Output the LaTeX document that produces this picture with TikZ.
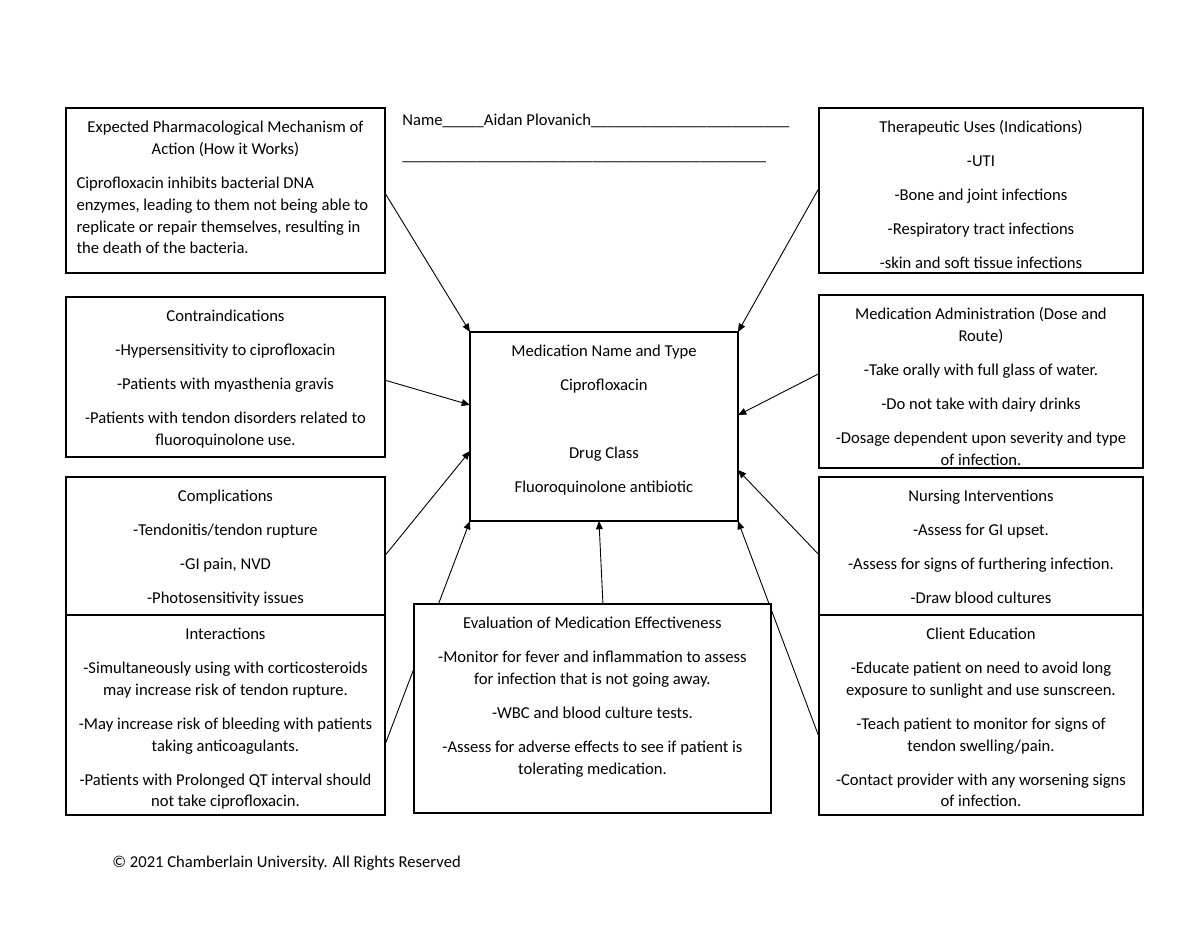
\documentclass[tikz,border=0pt]{standalone}
\usepackage{fontspec}
\setmainfont{Carlito}
\usepackage{tikz}
\usetikzlibrary{positioning, calc, arrows.meta, backgrounds}

\newcommand{\cardtext}[3]{\parbox[c][#1][t]{\dimexpr#2-14pt\relax}{\fontsize{11}{14.5}\selectfont\centering\rule{0pt}{16.2pt}#3}}

\begin{document}
\begin{tikzpicture}[
    x=0.02328cm, y=-0.02328cm,
    every node/.style={font=\fontsize{11}{14.5}\selectfont},
    card/.style={rectangle, draw=black, line width=1.2pt, fill=white,
                 inner xsep=7pt, inner ysep=0pt, outer sep=0pt},
    link/.style={line width=0.6pt, -{Triangle[length=5.5pt, width=4.5pt]}}
]
\useasboundingbox (0,0) rectangle (1200,927);

\node[card, anchor=north west] (mech) at (66,108) {\cardtext{3.841cm}{7.426cm}{Expected Pharmacological Mechanism of\\ Action (How it Works)\par\vspace{8pt}\raggedright Ciprofloxacin inhibits bacterial DNA\\ enzymes, leading to them not being able to\\ replicate or repair themselves, resulting in\\ the death of the bacteria.}};
\node[card, below=0.559cm of mech] (contra) {\cardtext{3.725cm}{7.426cm}{Contraindications\\[8pt] -Hypersensitivity to ciprofloxacin\\[8pt] -Patients with myasthenia gravis\\[8pt] -Patients with tendon disorders related to\\ fluoroquinolone use.}};
\node[card, below=0.466cm of contra] (compl) {\cardtext{3.213cm}{7.426cm}{Complications\\[8pt] -Tendonitis/tendon rupture\\[8pt] -GI pain, NVD\\[8pt] -Photosensitivity issues}};
\node[card, below=0cm of compl] (interact) {\cardtext{4.656cm}{7.426cm}{Interactions\\[8pt] -Simultaneously using with corticosteroids\\ may increase risk of tendon rupture.\\[8pt] -May increase risk of bleeding with patients\\ taking anticoagulants.\\[8pt] -Patients with Prolonged QT interval should\\ not take ciprofloxacin.}};

\node[card, anchor=north west] (therap) at (819,108) {\cardtext{3.841cm}{7.543cm}{Therapeutic Uses (Indications)\\[8pt] -UTI\\[8pt] -Bone and joint infections\\[8pt] -Respiratory tract infections\\[8pt] -skin and soft tissue infections}};
\node[card, below=0.512cm of therap] (admin) {\cardtext{4.027cm}{7.543cm}{Medication Administration (Dose and\\ Route)\\[8pt] -Take orally with full glass of water.\\[8pt] -Do not take with dairy drinks\\[8pt] -Dosage dependent upon severity and type\\ of infection.}};
\node[card, below=0.21cm of admin] (nursing) {\cardtext{3.213cm}{7.543cm}{Nursing Interventions\\[8pt] -Assess for GI upset.\\[8pt] -Assess for signs of furthering infection.\\[8pt] -Draw blood cultures}};
\node[card, below=0cm of nursing] (client) {\cardtext{4.656cm}{7.543cm}{Client Education\\[8pt] -Educate patient on need to avoid long\\ exposure to sunlight and use sunscreen.\\[8pt] -Teach patient to monitor for signs of\\ tendon swelling/pain.\\[8pt] -Contact provider with any worsening signs\\ of infection.}};

\node[card, anchor=north west] (center) at (470,332) {\cardtext{4.400cm}{6.239cm}{Medication Name and Type\\[8pt] Ciprofloxacin\\[8pt] \mbox{}\\[8pt] Drug Class\\[8pt] Fluoroquinolone antibiotic}};
\node[card, anchor=north west] (eval) at (414,604) {\cardtext{4.866cm}{8.311cm}{Evaluation of Medication Effectiveness\\[8pt] -Monitor for fever and inflammation to assess\\ for infection that is not going away.\\[8pt] -WBC and blood culture tests.\\[8pt] -Assess for adverse effects to see if patient is\\ tolerating medication.}};

\node[anchor=base west] (name) at (397,125) {Name\_\_\_\_\_Aidan Plovanich\_\_\_\_\_\_\_\_\_\_\_\_\_\_\_\_\_\_\_\_\_\_\_\_};
\node[anchor=base west] (nameline) at (397,160) {\_\_\_\_\_\_\_\_\_\_\_\_\_\_\_\_\_\_\_\_\_\_\_\_\_\_\_\_\_\_\_\_\_\_\_\_\_\_\_\_\_\_\_\_};
\node[anchor=base west] (copyright) at (107,867) {© 2021 Chamberlain University. All Rights Reserved};

\begin{scope}[on background layer]
\draw[link] ($(mech.north east)!0.515!(mech.south east)$) -- (center.north west);
\draw[link] ($(therap.north west)!0.485!(therap.south west)$) -- (center.north east);
\draw[link] ($(contra.north east)!0.52!(contra.south east)$) -- ($(center.north west)!0.386!(center.south west)$);
\draw[link] ($(compl.north east)!0.57!(compl.south east)$) -- ($(center.north west)!0.63!(center.south west)$);
\draw[link] ($(interact.north east)!0.65!(interact.south east)$) -- (center.south west);
\draw[link] ([xshift=0.244cm]eval.north) -- ([xshift=-0.116cm]center.south);
\draw[link] ($(client.north west)!0.61!(client.south west)$) -- (center.south east);
\draw[link] ($(admin.north west)!0.455!(admin.south west)$) -- ($(center.north east)!0.44!(center.south east)$);
\draw[link] ($(nursing.north west)!0.565!(nursing.south west)$) -- ($(center.north east)!0.73!(center.south east)$);
\end{scope}
\end{tikzpicture}
\end{document}
